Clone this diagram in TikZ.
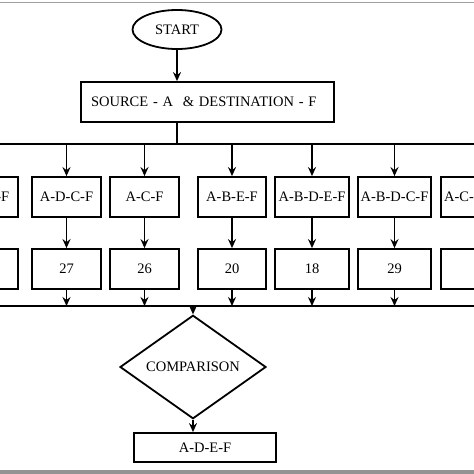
\documentclass[tikz,border=0pt]{standalone}
\usepackage{fontspec}
\setmainfont{Liberation Serif}
\usetikzlibrary{shapes.geometric,arrows.meta}
\begin{document}
\begin{tikzpicture}[x=1pt,y=-1pt,
  every node/.style={font=\fontsize{14.5}{17}\selectfont},
  box/.style={draw,line width=1.8pt,minimum height=40pt,inner sep=0pt},
  arr/.style={-{Stealth[length=9pt,width=8pt,inset=3pt]}, line width=1.6pt},
  ln/.style={line width=1.6pt}]
\useasboundingbox (0,0) rectangle (474,474);
\begin{scope}
\clip (0,0) rectangle (474,474);
% frame lines
\draw[gray!75, line width=1pt] (0,2) -- (474,2);
\fill[gray!85] (0,469.5) rectangle (474,474);

\node[draw, ellipse, line width=1.8pt, minimum width=89pt, minimum height=39pt, inner sep=0pt] (start) at (177,29.5) {START};
\node[box, text width=233pt, align=left, inner xsep=10pt] (src) at (207.5,102) {SOURCE - A \ \& DESTINATION - F};

\coordinate (busL) at (0,144);
\coordinate (busR) at (474,144);
\coordinate (bbL) at (0,306);
\coordinate (bbR) at (474,306);

\draw[arr] (start.south) -- (start.south |- src.north);
\draw[ln] (start.south |- src.south) -- (start.south |- busL);
\draw[ln] (busL) -- (busR);
\draw[ln] (bbL) -- (bbR);

% row 1
\node[box, minimum width=70pt] (pL) at (-17,197) {A-D-E-F};
\node[box, minimum width=69pt] (p1) at (66.5,197) {A-D-C-F};
\node[box, minimum width=69pt] (p2) at (144.5,197) {A-C-F};
\node[box, minimum width=68pt] (p3) at (232,197) {A-B-E-F};
\node[box, minimum width=74pt] (p4) at (312,197) {A-B-D-E-F};
\node[box, minimum width=73pt] (p5) at (394.5,197) {A-B-D-C-F};
\node[box, minimum width=73pt] (pR) at (477.5,197) {A-C-D-E-F};
% row 2
\node[box, minimum width=70pt] (cL) at (-17,269) {};
\node[box, minimum width=69pt] (c1) at (66.5,269) {27};
\node[box, minimum width=69pt] (c2) at (144.5,269) {26};
\node[box, minimum width=68pt] (c3) at (232,269) {20};
\node[box, minimum width=74pt] (c4) at (312,269) {18};
\node[box, minimum width=73pt] (c5) at (394.5,269) {29};
\node[box, minimum width=73pt] (cR) at (477.5,269) {};

\foreach \i in {1,2,3,4,5}{
  \draw[arr] (p\i.north |- busL) -- (p\i.north);
  \draw[arr] (p\i.south) -- (c\i.north);
  \draw[arr] (c\i.south) -- (c\i.south |- bbL);
}

\node[draw, diamond, line width=1.8pt, minimum width=146pt, minimum height=78pt, inner sep=0pt] (cmp) at (193,367) {COMPARISON};
\node[box, minimum width=142pt, minimum height=29pt] (res) at (205,447.5) {A-D-E-F};
\draw[arr] (cmp.north |- bbL) -- (cmp.north);
\draw[arr] (cmp.south) -- (cmp.south |- res.north);
\end{scope}
\end{tikzpicture}
\end{document}
